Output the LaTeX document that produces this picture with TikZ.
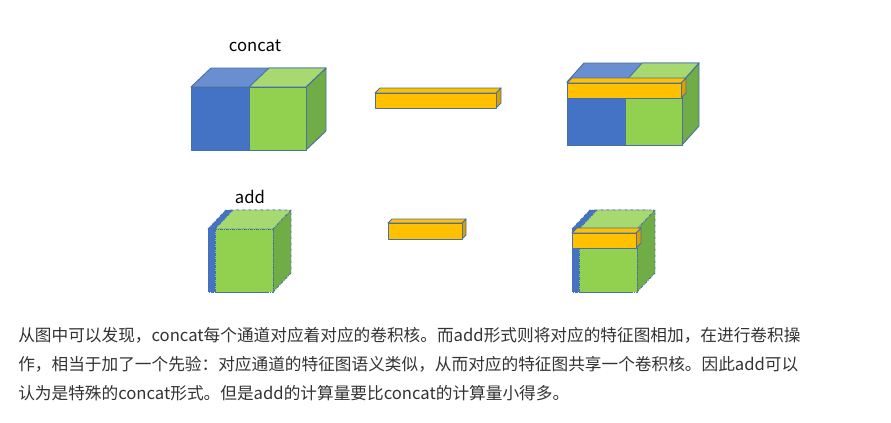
\documentclass[tikz,border=0pt]{standalone}
\usepackage{fontspec}
\setmainfont{Noto Sans CJK SC}
\definecolor{fblue}{HTML}{4472C4}
\definecolor{tblue}{HTML}{6A8FD0}
\definecolor{fgreen}{HTML}{92D050}
\definecolor{tgreen}{HTML}{A6D96F}
\definecolor{sgreen}{HTML}{70AD47}
\definecolor{fyel}{HTML}{FFC000}
\definecolor{syel}{HTML}{D9A000}
\definecolor{edge}{HTML}{4A6FA5}
\definecolor{txt}{HTML}{333333}
\tikzset{face/.style={draw=edge,line width=0.7pt,line join=round},
 dd/.style={dash pattern=on 2pt off 1pt on 0.5pt off 1pt},
 lab/.style={anchor=base west,text=txt,font=\fontsize{12.5pt}{14pt}\selectfont,inner sep=0pt}}
% \cube{x1}{y1}{x2}{y2}{dx}{dy}{front}{top}{side}{extra style}
\newcommand{\mycube}[9]{%
 \path[face,fill=#9] (#3,#4)--(#3+#5,#4-#6)--(#3+#5,#2-#6)--(#3,#2)--cycle;
 \path[face,fill=#8] (#1,#2)--(#1+#5,#2-#6)--(#3+#5,#2-#6)--(#3,#2)--cycle;
 \path[face,fill=#7] (#1,#2) rectangle (#3,#4);}
\begin{document}
\begin{tikzpicture}[x=0.75pt,y=-0.75pt]
\useasboundingbox[fill=white] (0,0) rectangle (891,422);
% top left concat cube
\mycube{191}{87}{306}{150}{20}{19}{fblue}{tblue}{sgreen}
\path[face,fill=tgreen] (249,87)--(269,68)--(326,68)--(306,87)--cycle;
\path[face,fill=fgreen] (249,87) rectangle (306,150);
\node[font=\fontsize{12.5pt}{14pt}\selectfont,text=black] (lc) at (255,46) {concat};
% top bar
\mycube{375}{93}{496}{108}{5}{5}{fyel}{fyel}{syel}
% top right cube
\mycube{567}{82}{682}{145}{17}{19}{fblue}{tblue}{sgreen}
\path[face,fill=tgreen] (625,82)--(642,63)--(699,63)--(682,82)--cycle;
\path[face,fill=fgreen] (625,82) rectangle (682,145);
\mycube{567}{83}{681}{98}{5}{5}{fyel}{fyel}{syel}
% bottom left add cube
\begin{scope}[every path/.append style={dd}]
\mycube{208}{229}{266}{292}{18}{19}{fblue}{fblue}{fblue}
\mycube{215}{229}{273}{292}{18}{19}{fgreen}{tgreen}{sgreen}
\end{scope}
\node[font=\fontsize{12.5pt}{14pt}\selectfont,text=black] (la) at (250,197) {add};
% bottom bar
\mycube{388}{223}{462}{239}{4}{4}{fyel}{fyel}{syel}
% bottom right cube
\begin{scope}[every path/.append style={dd}]
\mycube{572}{229}{630}{292}{18}{19}{fblue}{fblue}{fblue}
\mycube{579}{229}{637}{292}{18}{19}{fgreen}{tgreen}{sgreen}
\end{scope}
\mycube{572}{233}{636}{248}{5}{5}{fyel}{fyel}{syel}
% text
\node[lab] (t1) at (18,341) {从图中可以发现，concat每个通道对应着对应的卷积核。而add形式则将对应的特征图相加，在进行卷积操};
\node[lab] (t2) at (18,370) {作，相当于加了一个先验：对应通道的特征图语义类似，从而对应的特征图共享一个卷积核。因此add可以};
\node[lab] (t3) at (18,399) {认为是特殊的concat形式。但是add的计算量要比concat的计算量小得多。};
\end{tikzpicture}
\end{document}
